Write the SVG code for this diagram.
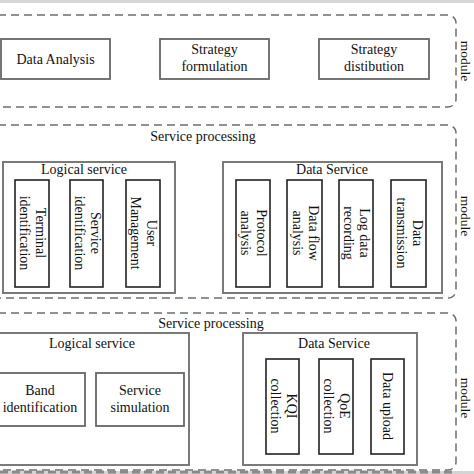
<svg xmlns="http://www.w3.org/2000/svg" width="474" height="474" viewBox="0 0 474 474">
<style>
text{font-family:"Liberation Serif","Times New Roman",serif;font-size:14px;fill:#111}
.mid{text-anchor:middle}
.mod{text-anchor:middle;font-size:13.5px}
.dash{fill:none;stroke:#6e6e6e;stroke-width:1.5;stroke-dasharray:8 5}
.outer{fill:#fff;stroke:#7a7a7a;stroke-width:2}
.inner{fill:#fff;stroke:#222;stroke-width:1.6}
.box{fill:#fff;stroke:#666;stroke-width:1.8}
</style>
<rect x="0" y="0" width="474" height="474" fill="#fff"/>
<rect x="0" y="0" width="474" height="3" fill="#d8d8d8"/>
<rect x="0" y="471" width="474" height="3" fill="#d4d4d4"/>

<g id="module1">
<rect class="dash" x="-10" y="15" width="466" height="92" rx="8"/>
<text class="mod" transform="translate(461,61) rotate(90)">module</text>
</g>
<g id="data-analysis">
<rect class="box" x="1" y="39" width="109" height="40"/>
<text class="mid" x="55.5" y="64">Data Analysis</text>
</g>
<g id="strategy-formulation">
<rect class="box" x="160" y="39" width="109" height="40"/>
<text class="mid" x="214.5" y="54">Strategy</text>
<text class="mid" x="214.5" y="71">formulation</text>
</g>
<g id="strategy-distibution">
<rect class="box" x="319" y="39" width="110" height="40"/>
<text class="mid" x="374" y="54">Strategy</text>
<text class="mid" x="374" y="71">distibution</text>
</g>

<g id="module2">
<rect class="dash" x="-10" y="125" width="466" height="173" rx="8"/>
<text class="mid" x="203" y="141">Service processing</text>
<text class="mod" transform="translate(461,216) rotate(90)">module</text>
</g>
<g id="logical-service-1">
<rect class="outer" x="3" y="162" width="172" height="131"/>
<text class="mid" x="84" y="174">Logical service</text>
</g>
<g id="terminal-identification">
<rect class="inner" x="15" y="180" width="34" height="107"/>
<text class="mid" transform="translate(32,233) rotate(90)"><tspan x="0" y="-4">Terminal</tspan><tspan x="0" y="12">identification</tspan></text>
</g>
<g id="service-identification">
<rect class="inner" x="70" y="180" width="33" height="107"/>
<text class="mid" transform="translate(86.5,233) rotate(90)"><tspan x="0" y="-4">Service</tspan><tspan x="0" y="12">identification</tspan></text>
</g>
<g id="user-management">
<rect class="inner" x="126" y="180" width="34" height="107"/>
<text class="mid" transform="translate(143,233) rotate(90)"><tspan x="0" y="-4">User</tspan><tspan x="0" y="12">Management</tspan></text>
</g>
<g id="data-service-1">
<rect class="outer" x="223" y="162" width="219" height="131"/>
<text class="mid" x="332" y="174">Data Service</text>
</g>
<g id="protocol-analysis">
<rect class="inner" x="236" y="180" width="34" height="107"/>
<text class="mid" transform="translate(253,233) rotate(90)"><tspan x="0" y="-4">Protocol</tspan><tspan x="0" y="12">analysis</tspan></text>
</g>
<g id="data-flow-analysis">
<rect class="inner" x="287" y="180" width="35" height="107"/>
<text class="mid" transform="translate(304.5,233) rotate(90)"><tspan x="0" y="-4">Data flow</tspan><tspan x="0" y="12">analysis</tspan></text>
</g>
<g id="log-data-recording">
<rect class="inner" x="339" y="180" width="34" height="107"/>
<text class="mid" transform="translate(356,233) rotate(90)"><tspan x="0" y="-4">Log data</tspan><tspan x="0" y="12">recording</tspan></text>
</g>
<g id="data-transmission">
<rect class="inner" x="391" y="180" width="35" height="107"/>
<text class="mid" transform="translate(408.5,233) rotate(90)"><tspan x="0" y="-4">Data</tspan><tspan x="0" y="12">transmission</tspan></text>
</g>

<g id="module3">
<rect class="dash" x="-10" y="313" width="466" height="157" rx="8"/>
<line x1="0" y1="472" x2="452" y2="472" stroke="#8a8a8a" stroke-width="3" stroke-dasharray="8 4"/>
<text class="mid" x="211" y="328">Service processing</text>
<text class="mod" transform="translate(461,398) rotate(90)">module</text>
</g>
<g id="logical-service-2">
<rect class="outer" x="-5" y="333" width="194" height="132"/>
<text class="mid" x="92" y="348">Logical service</text>
</g>
<g id="band-identification">
<rect class="box" x="-5" y="373" width="90" height="53"/>
<text class="mid" x="40" y="395">Band</text>
<text class="mid" x="40" y="412">identification</text>
</g>
<g id="service-simulation">
<rect class="box" x="96" y="373" width="88" height="53"/>
<text class="mid" x="140" y="395">Service</text>
<text class="mid" x="140" y="412">simulation</text>
</g>
<g id="data-service-2">
<rect class="outer" x="243" y="333" width="174" height="132"/>
<text class="mid" x="334" y="348">Data Service</text>
</g>
<g id="kqi-collection">
<rect class="inner" x="266" y="359" width="33" height="95"/>
<text class="mid" transform="translate(282.5,406) rotate(90)"><tspan x="0" y="-4">KQI</tspan><tspan x="0" y="12">collection</tspan></text>
</g>
<g id="qoe-collection">
<rect class="inner" x="319" y="359" width="34" height="95"/>
<text class="mid" transform="translate(336,406) rotate(90)"><tspan x="0" y="-4">QoE</tspan><tspan x="0" y="12">collection</tspan></text>
</g>
<g id="data-upload">
<rect class="inner" x="371" y="359" width="33" height="95"/>
<text class="mid" transform="translate(387.5,406) rotate(90)"><tspan x="0" y="4.5">Data upload</tspan></text>
</g>
<g id="connectors"></g>
</svg>
